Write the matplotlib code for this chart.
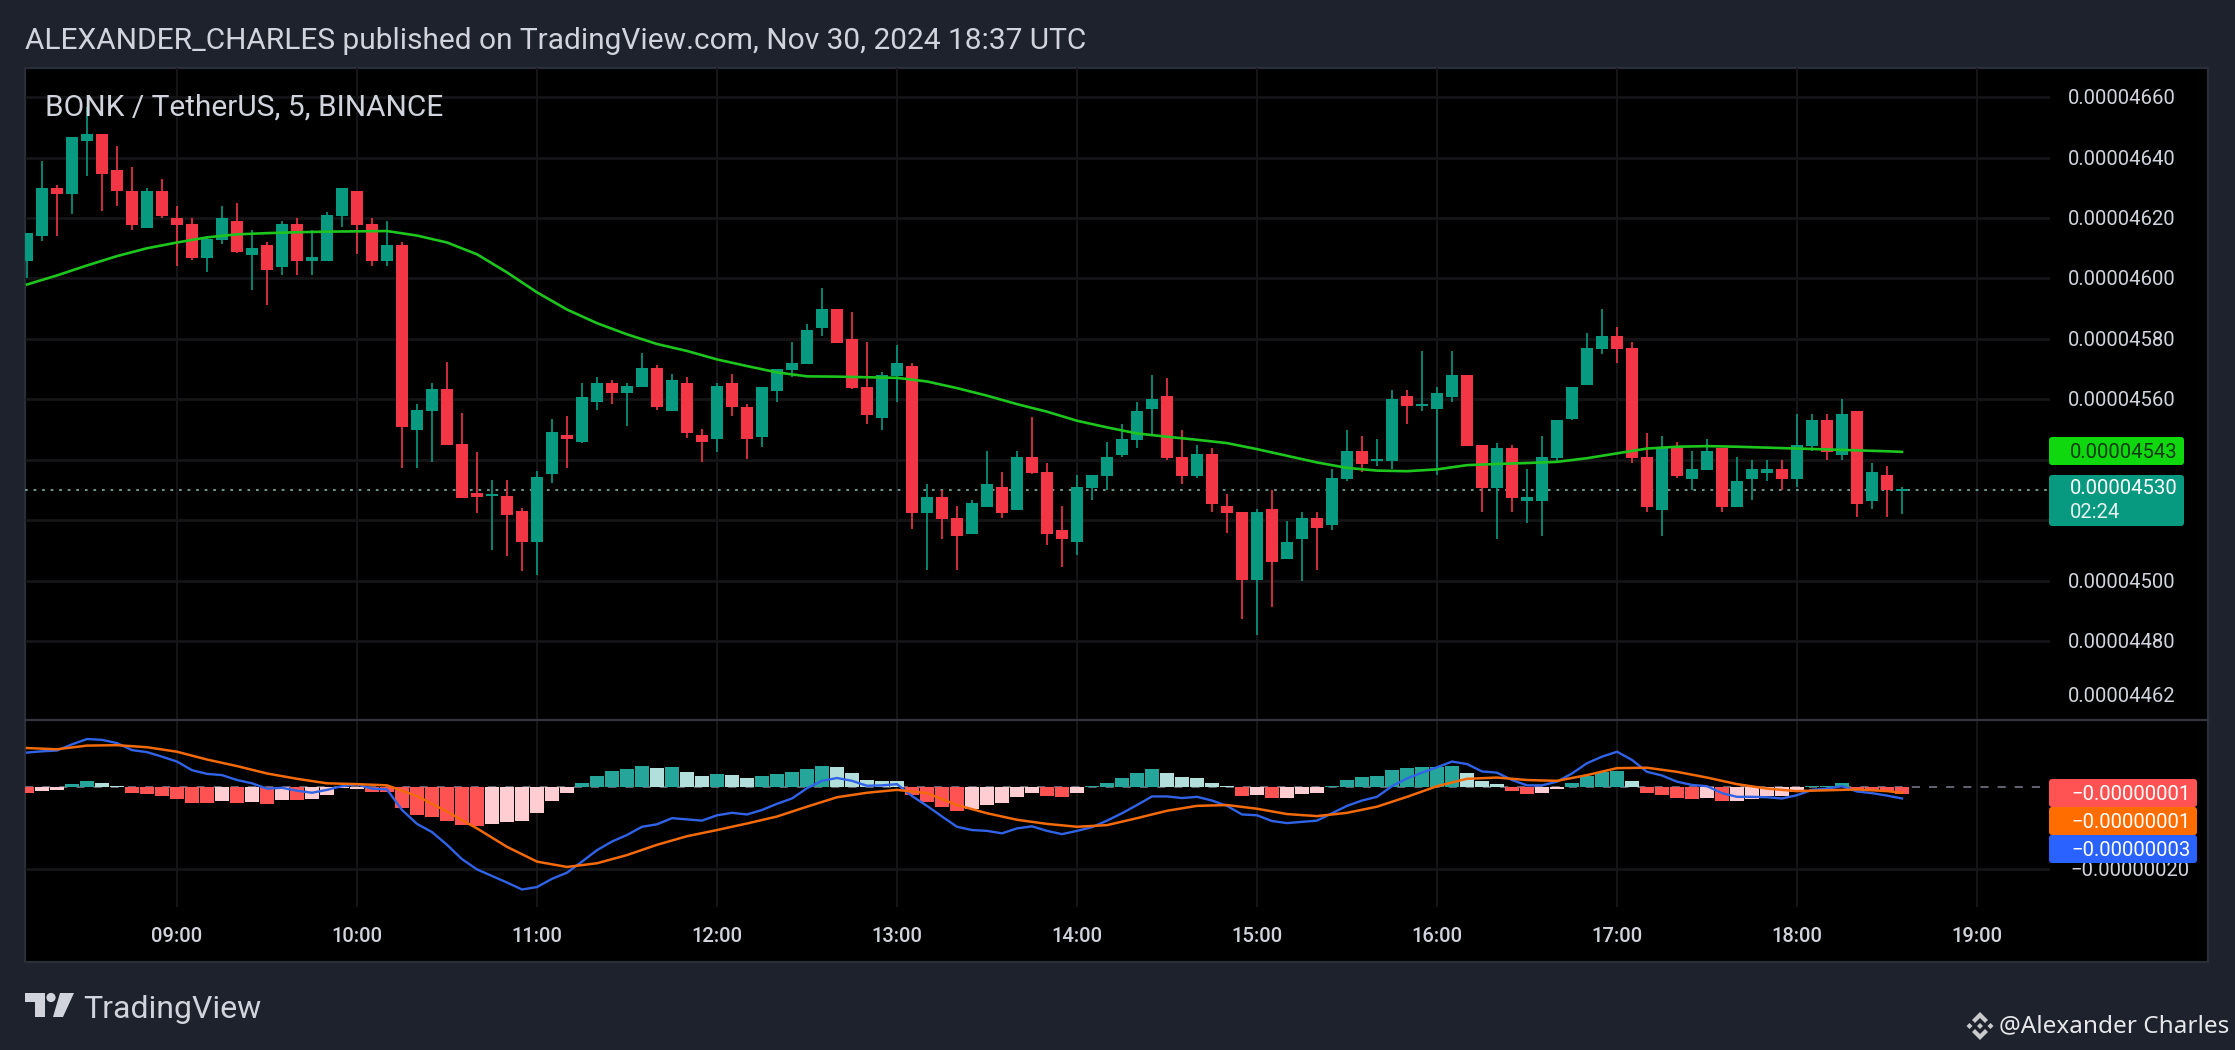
import matplotlib as mpl
mpl.use("Agg")
import matplotlib.pyplot as plt
from matplotlib.patches import Rectangle, FancyBboxPatch, Polygon, Circle
import numpy as np

plt.rcParams['font.family'] = ['Roboto', 'DejaVu Sans']

# prices are in units of 1e-8, bar 0 is the 09:00 candle
first_bar = -10
opens = [4605.9,4613.9,4629.9,4627.8,4645.6,4647.8,4635.9,4629.0,4616.8,4629.0,
 4620.0,4618.1,4606.8,4612.8,4619.1,4607.8,4611.1,4603.9,4618.1,4605.8,
 4605.8,4620.7,4629.0,4618.1,4605.8,4611.1,4550.0,4556.2,4563.5,4545.3,
 4529.1,4527.9,4528.1,4523.1,4512.8,4535.2,4548.3,4546.0,4559.2,4565.5,
 4562.2,4564.1,4570.5,4556.2,4565.5,4548.3,4546.9,4565.5,4557.5,4547.6,
 4562.8,4569.8,4571.8,4583.7,4590.0,4580.0,4564.2,4553.9,4567.8,4571.1,
 4522.5,4527.8,4520.8,4515.5,4524.5,4531.1,4523.5,4541.0,4536.0,4516.9,
 4512.6,4530.8,4534.7,4541.7,4546.6,4556.9,4561.2,4541.0,4534.7,4542.0,
 4524.8,4522.8,4500.3,4523.8,4507.3,4513.6,4520.8,4518.5,4533.7,4543.0,
 4539.7,4539.7,4561.2,4557.9,4556.9,4560.8,4568.0,4544.9,4530.8,4543.9,
 4526.5,4526.5,4540.6,4553.6,4564.8,4576.6,4580.9,4576.9,4540.9,4523.4,
 4543.9,4533.6,4536.6,4543.9,4524.4,4533.6,4535.6,4536.9,4533.6,4544.5,
 4553.1,4541.6,4556.1,4526.4,4535.0,4529.7]
closes = [4615.0,4629.9,4627.8,4646.8,4647.8,4634.7,4628.8,4617.7,4629.0,4620.7,
 4617.7,4606.8,4613.1,4620.0,4608.7,4610.1,4602.9,4618.1,4605.8,4607.2,
 4621.0,4629.9,4617.7,4605.8,4611.1,4550.9,4556.5,4563.5,4545.0,4527.4,
 4527.8,4528.4,4521.8,4512.8,4534.4,4549.3,4546.9,4560.6,4565.5,4562.2,
 4564.4,4570.5,4557.3,4566.5,4548.9,4546.0,4564.4,4557.3,4546.9,4564.2,
 4570.1,4572.1,4583.0,4590.0,4578.7,4563.7,4554.9,4568.1,4572.1,4522.5,
 4527.8,4520.5,4514.6,4525.8,4532.1,4522.5,4541.0,4535.7,4515.5,4513.6,
 4531.1,4535.1,4541.0,4547.0,4556.2,4560.2,4540.7,4534.7,4542.0,4525.5,
 4522.5,4500.3,4522.8,4506.3,4512.9,4520.8,4517.5,4534.1,4543.0,4538.7,
 4540.2,4560.2,4557.9,4558.4,4562.2,4568.0,4544.5,4530.8,4543.9,4527.4,
 4527.7,4540.9,4553.0,4564.0,4576.9,4580.9,4576.6,4540.6,4524.4,4543.9,
 4534.6,4536.9,4542.9,4524.4,4533.0,4536.9,4536.9,4533.6,4544.9,4553.1,
 4542.6,4555.1,4525.4,4536.0,4530.0,4530.3]
highs = [4615.0,4638.9,4631.0,4646.8,4656.8,4647.8,4643.8,4636.9,4629.9,4632.9,
 4624.1,4620.0,4614.0,4624.0,4625.0,4616.0,4612.2,4619.1,4620.0,4616.0,
 4622.1,4629.9,4629.0,4620.0,4619.1,4612.2,4558.4,4565.5,4572.4,4555.6,
 4542.5,4533.4,4533.4,4524.0,4536.4,4553.6,4554.5,4565.5,4567.5,4566.5,
 4565.5,4575.4,4571.5,4568.4,4567.5,4550.3,4565.5,4568.4,4558.5,4564.2,
 4570.1,4579.0,4584.9,4596.8,4590.0,4589.0,4579.0,4569.1,4578.1,4572.1,
 4532.1,4530.1,4524.8,4526.8,4543.0,4536.1,4543.0,4554.2,4539.0,4524.8,
 4535.1,4535.1,4546.0,4551.9,4559.2,4568.1,4567.1,4549.9,4545.0,4544.0,
 4528.8,4522.8,4523.8,4530.1,4519.8,4522.8,4522.8,4537.0,4549.9,4548.0,
 4547.0,4563.2,4563.2,4576.1,4564.2,4575.9,4568.0,4544.9,4545.7,4544.9,
 4536.9,4547.8,4553.0,4564.0,4581.9,4589.8,4583.9,4578.9,4548.8,4547.8,
 4545.9,4542.9,4546.9,4543.9,4540.9,4539.9,4539.9,4539.9,4555.1,4555.1,
 4555.1,4560.1,4556.1,4538.9,4537.9,4531.0]
lows = [4600.3,4612.3,4614.2,4621.2,4634.0,4622.2,4624.1,4616.1,4616.8,4620.0,
 4604.2,4606.2,4602.3,4611.3,4608.3,4596.2,4591.3,4601.2,4601.2,4601.2,
 4605.8,4617.0,4608.2,4604.2,4604.2,4537.3,4537.3,4539.4,4545.0,4527.2,
 4522.3,4510.0,4508.1,4503.0,4502.0,4532.4,4537.3,4545.4,4556.6,4558.5,
 4551.2,4564.1,4556.6,4556.2,4547.3,4539.4,4542.5,4554.5,4540.4,4544.1,
 4559.2,4567.3,4571.8,4581.1,4578.7,4563.3,4551.9,4549.9,4559.2,4517.0,
 4503.6,4513.9,4503.6,4515.5,4524.5,4520.8,4523.5,4535.2,4511.9,4504.6,
 4508.6,4526.8,4530.1,4541.0,4544.0,4548.0,4540.0,4532.1,4534.1,4522.8,
 4515.9,4487.4,4482.1,4491.4,4507.3,4499.7,4503.6,4516.9,4533.1,4536.1,
 4538.0,4537.0,4551.9,4556.2,4535.1,4559.2,4544.5,4522.8,4513.9,4522.8,
 4518.9,4514.9,4538.9,4553.1,4564.8,4574.9,4572.0,4538.9,4522.8,4514.9,
 4534.1,4530.0,4536.6,4522.8,4524.4,4526.8,4533.0,4530.0,4531.0,4542.9,
 4539.9,4539.9,4520.9,4523.8,4520.9,4521.9]

# moving average, read every second bar
ma_bars = list(range(-10, 115, 2)) + [115]
ma_vals = [4598,4601,4604.3,4607.4,4610,4611.9,4613.6,4614.6,4615,4615.3,4615.5,4615.6,4615.7,
 4614.2,4611.9,4608,4602,4595.4,4589.7,4585.2,4581.5,4578.3,4576,4573.2,4571,4568.9,4567.6,
 4567.5,4567.3,4567.1,4565.9,4563.7,4561.2,4558.4,4555.9,4552.9,4550.7,4548.7,4547.6,4546.6,
 4545.5,4543.5,4541.3,4539.1,4537.3,4536.4,4536.2,4536.8,4538.2,4538.6,4538.9,4539.3,4540.5,
 4542.1,4543.7,4544.3,4544.5,4544.3,4544,4543.7,4543.4,4543.1,4542.8,4542.6]

hist_vals = [-1.4,-1,-.7,.7,1.5,1,.25,-1.5,-1.7,-2.2,
 -2.9,-3.9,-3.9,-3.4,-3.9,-3.7,-4.1,-3.2,-3.2,-2.9,
 -2,-.2,-.4,-1.1,-1.1,-5.1,-6.8,-7.3,-8.3,-9.3,
 -9.5,-9,-8.5,-8.3,-6.3,-3.4,-1.5,1,2.7,3.9,
 4.4,5.1,4.6,4.9,3.7,2.7,3.2,2.9,2.2,2.7,
 3.2,3.7,4.4,5.1,4.9,3.4,1.7,1.5,1.5,-2,
 -3.7,-4.9,-5.9,-5.4,-4.4,-3.9,-2.4,-1.5,-2.2,-2.4,
 -1.5,.25,1,2.2,3.4,4.4,3.4,2.4,2.2,1,
 .25,-2.2,-2,-2.7,-2.7,-1.7,-1.5,.25,1.7,2.4,
 2.7,4.1,4.6,4.9,4.9,5.1,3.4,1.5,.7,-1,
 -1.7,-1.5,-.5,1,2.7,3.7,3.9,1.5,-1.5,-2,
 -2.7,-2.9,-2.7,-3.4,-3.4,-2.9,-2.2,-2.2,-1.2,.25,
 .25,1,-.7,-.7,-1,-1.7]
# R falling below zero, l rising below zero, G rising above zero, g falling above zero
hist_kinds = ("RllGGggRRR" "RRRlRlRlRl" "lllRRRRRRR" "RllllllGGG"
              "GGgGggGggG" "GGGGgggggR" "RRRlllllRR" "lGGGGGgggg"
              "gRlRlllGGG" "GGGGGGgggR" "RllGGGGgRR" "RRlRlllllG" "GGRRRR")

macd_vals = [8.4,8.7,8.9,10.4,11.7,11.5,10.7,9.0,8.5,7.4,
 6.2,4.1,3.2,2.9,1.7,0.9,-0.4,-0.2,-0.9,-1.4,
 -0.7,0.2,0.65,-0.4,-0.6,-5.6,-9.0,-11.0,-14.1,-17.6,
 -20.1,-21.7,-23.3,-25.0,-24.4,-22.4,-20.9,-18.2,-15.4,-13.3,
 -11.7,-9.7,-9.1,-7.6,-7.9,-8.2,-6.9,-6.3,-6.7,-5.6,
 -4.1,-2.8,-0.3,1.5,2.2,1.5,0.3,0.4,0.7,-2.2,
 -4.6,-7.2,-9.7,-10.5,-10.7,-11.3,-10.1,-9.6,-10.7,-11.5,
 -10.7,-9.8,-8.2,-6.4,-4.4,-2.3,-2.3,-2.7,-2.4,-3.3,
 -4.6,-6.7,-6.9,-8.3,-8.8,-8.5,-8.2,-6.4,-4.6,-3.3,
 -2.4,0.2,2.1,3.5,4.8,6.2,5.6,3.8,3.5,1.7,
 0.4,0.4,1.3,3.3,5.8,7.4,8.6,6.6,3.7,2.8,
 1.3,0.5,0.2,-1.5,-2.4,-2.4,-2.5,-2.8,-2.0,-0.7,
 -0.4,0.2,-1.1,-1.5,-2.1,-2.8]

signal_bars = list(range(-10, 115, 2)) + [115]
signal_vals = [9.5,9.2,10.1,10.2,9.7,8.6,6.7,5.1,3.3,2.0,0.9,0.7,0.4,-2.2,-6.0,-10.1,-14.6,
 -18.2,-19.5,-18.6,-16.6,-14.1,-12.0,-10.5,-8.9,-7.2,-4.8,-2.5,-1.4,-0.7,-1.5,-4.4,-6.4,-8.0,
 -9.0,-9.7,-9.3,-7.6,-5.8,-4.6,-4.4,-5.3,-6.6,-7.1,-6.3,-4.8,-2.4,0.2,2.0,2.3,1.7,1.5,2.9,4.6,
 4.7,3.7,2.3,0.7,-0.4,-1.0,-0.8,-0.6,-1.0,-1.4]

time_bars = [0, 12, 24, 36, 48, 60, 72, 84, 96, 108, 120]
time_labels = ["09:00","10:00","11:00","12:00","13:00","14:00","15:00","16:00","17:00","18:00","19:00"]
price_grid = [4660,4640,4620,4600,4580,4560,4540,4520,4500,4480]
price_ticks = [4660,4640,4620,4600,4580,4560,4500,4480,4462]
price_labels = ["0.00004660","0.00004640","0.00004620","0.00004600","0.00004580","0.00004560",
                "0.00004500","0.00004480","0.00004462"]
last_price = 4530
macd_tick = -20

BG = "#1e222d"
UP = "#089981"
DOWN = "#f23645"
GRID = "#151517"
TXT = "#d1d4dc"
hist_colors = {"R": "#ff5252", "l": "#ffcdd2", "G": "#26a69a", "g": "#b2dfdb"}

W, H = 2235, 1050
fig = plt.figure(figsize=(W/100, H/100), dpi=100, facecolor=BG)

def box(x0, y0, x1, y1):
    return [x0/W, 1-y1/H, (x1-x0)/W, (y1-y0)/H]

# black panel behind the panes and the scales
under = fig.add_axes([0, 0, 1, 1], zorder=0)
under.set_xlim(0, W); under.set_ylim(H, 0); under.axis("off")
under.add_patch(Rectangle((25, 68), 2183, 894, fc="black", ec="#2a2e39", lw=1.6))

X0, X1 = 25, 2050
xlim = ((X0-177)/15, (X1-177)/15)

ax = fig.add_axes(box(X0, 68, X1, 720), zorder=1, facecolor="none")
ax.set_xlim(xlim)
ax.set_ylim(4660-(720-97.2)/3.021, 4660+(97.2-68)/3.021)
mx = fig.add_axes(box(X0, 720, X1, 907), zorder=1, facecolor="none")
mx.set_xlim(xlim)
mx.set_ylim(-(907-787)/4.1, (787-720)/4.1)
for a in (ax, mx):
    a.set_xticks([]); a.set_yticks([])
    for s in a.spines.values():
        s.set_visible(False)
    a.vlines(time_bars, *a.get_ylim(), color=GRID, lw=1.5, zorder=1)

ax.hlines(price_grid, *xlim, color=GRID, lw=2, zorder=1)
ax.axhline(last_price, color="#6b9a90", lw=1.4, ls=(0, (1.4, 3)), zorder=2)

bars = np.arange(first_bar, first_bar+len(opens))
o, c = np.array(opens), np.array(closes)
cols = [UP if ci >= oi else DOWN for oi, ci in zip(o, c)]
ax.vlines(bars, lows, highs, colors=cols, lw=1.2, zorder=3)
body_h = np.maximum(np.abs(c-o), 0.6)
ax.bar(bars, body_h, bottom=np.minimum(o, c), width=0.8, color=cols, lw=0, zorder=4)
ax.plot(ma_bars, ma_vals, color="#1ec51e", lw=1.9, zorder=5)

mx.hlines([macd_tick], *xlim, color=GRID, lw=2, zorder=1)
mx.axhline(0, color="#6a6d78", lw=1.3, ls=(0, (4.5, 5)), zorder=2)
mx.bar(bars, hist_vals, width=0.87, color=[hist_colors[k] for k in hist_kinds], lw=0, zorder=3)
mx.plot(bars, macd_vals, color="#3163e6", lw=1.7, zorder=4)
mx.plot(signal_bars, signal_vals, color="#f26a0c", lw=1.8, zorder=5)

# everything else goes on a pixel overlay
ov = fig.add_axes([0, 0, 1, 1], zorder=3, facecolor="none")
ov.set_xlim(0, W); ov.set_ylim(H, 0); ov.axis("off")
ov.plot([25, 2208], [720, 720], color="#35363d", lw=1.6)

ov.text(25, 41, "ALEXANDER_CHARLES published on TradingView.com, Nov 30, 2024 18:37 UTC",
        color=TXT, fontsize=21.55, va="center")
ov.text(45, 108, "BONK / TetherUS, 5, BINANCE", color=TXT, fontsize=21.5, va="center")
ov.text(83, 1009, "TradingView", color=TXT, fontsize=23, va="center")
ov.text(1999, 1026, "@Alexander Charles", color="#e6e7ea", fontsize=17.5, va="center",
        family=["Noto Sans", "DejaVu Sans"])

y_of = lambda p: (97.2 + (4660-p)*3.021)
for p, lab in zip(price_ticks, price_labels):
    ov.text(2068, y_of(p)+1.5, lab, color=TXT, fontsize=14.6, va="center")
ov.text(2070, 870, "\u22120.00000020", color=TXT, fontsize=14.6, va="center")
for b, lab in zip(time_bars, time_labels):
    ov.text(177+15*b, 937, lab, color=TXT, fontsize=14.6, va="center", ha="center", fontweight="medium")

def badge(x0, y0, x1, y1, col):
    ov.add_patch(FancyBboxPatch((x0, y0+3), x1-x0-3, y1-y0-6, boxstyle="round,pad=3", fc=col, ec="none", zorder=6))
    ov.add_patch(Rectangle((x0, y0), 10, y1-y0, fc=col, ec="none", zorder=6))

badge(2052, 437, 2184, 465, "#0fd80f")
ov.text(2070, 452, "0.00004543", color="#103a10", fontsize=14.6, va="center", zorder=7)
badge(2052, 475, 2184, 526, UP)
ov.text(2070, 489, "0.00004530", color="#ffffff", fontsize=14.6, va="center", zorder=7)
ov.text(2070, 512, "02:24", color="#e6f3f0", fontsize=14.6, va="center", zorder=7)
badge(2052, 779, 2197, 807, "#ff5252")
ov.text(2071, 794, "\u22120.00000001", color="#ffffff", fontsize=14.6, va="center", zorder=7)
badge(2052, 807, 2197, 835, "#ff6d00")
ov.text(2071, 822, "\u22120.00000001", color="#ffffff", fontsize=14.6, va="center", zorder=7)
badge(2052, 835, 2197, 863, "#2962ff")
ov.text(2071, 850, "\u22120.00000003", color="#ffffff", fontsize=14.6, va="center", zorder=7)

# tradingview logo
ov.add_patch(Polygon([(25,993),(45,993),(45,1017),(35,1017),(35,1002),(25,1002)], fc=TXT, ec="none"))
ov.add_patch(Circle((51,997.5), 4.6, fc=TXT, ec="none"))
ov.add_patch(Polygon([(60,993),(74,993),(63,1017),(53,1017)], fc=TXT, ec="none"))

# binance diamonds
cx, cy = 1980, 1026
ICON = "#c9cacd"
def diamond(x, y, r):
    ov.add_patch(Polygon([(x, y-r), (x+r, y), (x, y+r), (x-r, y)], fc=ICON, ec="none"))
ov.add_patch(Polygon([(cx,cy-14),(cx+8,cy-6),(cx+5,cy-3),(cx,cy-8),(cx-5,cy-3),(cx-8,cy-6)], fc=ICON, ec="none"))
ov.add_patch(Polygon([(cx,cy+14),(cx+8,cy+6),(cx+5,cy+3),(cx,cy+8),(cx-5,cy+3),(cx-8,cy+6)], fc=ICON, ec="none"))
diamond(cx-10.5, cy, 3); diamond(cx+10.5, cy, 3); diamond(cx, cy, 3)

fig.savefig("out.png", dpi=100, facecolor=BG)
